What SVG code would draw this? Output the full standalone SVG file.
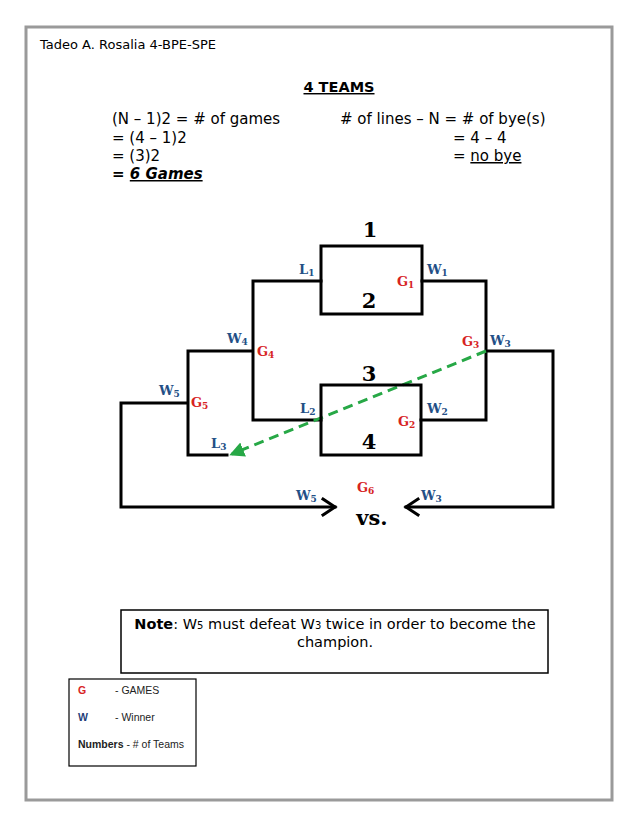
<svg xmlns="http://www.w3.org/2000/svg" width="638" height="826" viewBox="0 0 638 826">
<defs>
<style>
.hdr{font-family:"DejaVu Sans",Verdana,sans-serif;fill:#000}
.ln{fill:none;stroke:#000;stroke-width:3;stroke-linecap:square}
.box{fill:none;stroke:#000;stroke-width:3}
.num{font-family:"DejaVu Serif",serif;font-weight:bold;font-size:21px;fill:#000;text-anchor:middle}
.lb{font-family:"DejaVu Serif",serif;font-weight:bold;font-size:13px;fill:#234f86}
.g{font-family:"DejaVu Serif",serif;font-weight:bold;font-size:13px;fill:#d7241f}
.sub{font-size:9px}
.leg{font-family:"Liberation Sans",Arial,sans-serif;font-size:10.5px;fill:#222}
</style>
<marker id="ga" viewBox="0 0 10 10" refX="8" refY="5" markerWidth="5" markerHeight="5" orient="auto" markerUnits="strokeWidth">
<path d="M0,0 L10,5 L0,10 z" fill="#27a846"/>
</marker>
</defs>
<rect x="0" y="0" width="638" height="826" fill="#fff"/>
<rect x="26" y="27" width="586" height="773" fill="none" stroke="#9a9a9a" stroke-width="3"/>

<g id="header">
<text class="hdr" x="40" y="49" font-size="13">Tadeo A. Rosalia 4-BPE-SPE</text>
<text class="hdr" x="339" y="92" font-size="14.5" font-weight="bold" text-anchor="middle" text-decoration="underline">4 TEAMS</text>
<text class="hdr" x="112" y="124" font-size="15">(N – 1)2 = # of games</text>
<text class="hdr" x="112" y="143" font-size="15">= (4 – 1)2</text>
<text class="hdr" x="112" y="161" font-size="15">= (3)2</text>
<text class="hdr" x="112" y="179" font-size="15" font-weight="bold" font-style="italic">= <tspan text-decoration="underline">6 Games</tspan></text>
<text class="hdr" x="340" y="124" font-size="15"># of lines – N = # of bye(s)</text>
<text class="hdr" x="453" y="143" font-size="15">= 4 – 4</text>
<text class="hdr" x="453" y="161" font-size="15">= <tspan text-decoration="underline">no bye</tspan></text>
</g>

<g id="connectors">
<path class="ln" d="M253,281 H321 M422,281 H486 V420 H421 M486,351 H553 V507 H406 M253,420 H321 M253,281 V420 M188,351 H253 M188,351 V455 H227 M121,403 H188 M121,403 V507 H335"/>
<path class="ln" d="M323,499 L335,507 L323,515 M418,499 L406,507 L418,515" stroke-linecap="round" stroke-linejoin="miter"/>
<line x1="486" y1="351" x2="232" y2="454" stroke="#27a846" stroke-width="3" stroke-dasharray="10,6" marker-end="url(#ga)"/>
</g>

<g id="game1">
<rect class="box" x="321" y="246" width="101" height="68"/>
<text class="num" x="370" y="237">1</text>
<text class="num" x="369" y="308">2</text>
<text class="g" x="397" y="286">G<tspan class="sub" dy="2">1</tspan></text>
</g>
<g id="game2">
<rect class="box" x="321" y="385" width="100" height="70"/>
<text class="num" x="369" y="381">3</text>
<text class="num" x="369" y="449">4</text>
<text class="g" x="398" y="426">G<tspan class="sub" dy="2">2</tspan></text>
</g>

<g id="labels">
<text class="lb" x="299" y="274">L<tspan class="sub" dy="2">1</tspan></text>
<text class="lb" x="427" y="274">W<tspan class="sub" dy="2">1</tspan></text>
<text class="g" x="462" y="346">G<tspan class="sub" dy="2">3</tspan></text>
<text class="lb" x="490" y="345">W<tspan class="sub" dy="2">3</tspan></text>
<text class="lb" x="427" y="413">W<tspan class="sub" dy="2">2</tspan></text>
<text class="lb" x="300" y="413">L<tspan class="sub" dy="2">2</tspan></text>
<text class="lb" x="227" y="343">W<tspan class="sub" dy="2">4</tspan></text>
<text class="g" x="257" y="356">G<tspan class="sub" dy="2">4</tspan></text>
<text class="lb" x="159" y="395">W<tspan class="sub" dy="2">5</tspan></text>
<text class="g" x="191" y="407">G<tspan class="sub" dy="2">5</tspan></text>
<text class="lb" x="211" y="448">L<tspan class="sub" dy="2">3</tspan></text>
<text class="lb" x="296" y="500">W<tspan class="sub" dy="2">5</tspan></text>
<text class="g" x="357" y="492">G<tspan class="sub" dy="2">6</tspan></text>
<text class="lb" x="421" y="500">W<tspan class="sub" dy="2">3</tspan></text>
<text class="num" x="372" y="525">vs.</text>
</g>

<g id="note">
<rect x="121" y="610" width="427" height="63" fill="none" stroke="#000" stroke-width="1.5"/>
<text class="hdr" x="335" y="629" font-size="14.5" text-anchor="middle"><tspan font-weight="bold">Note</tspan>: W<tspan font-size="10">5</tspan> must defeat W<tspan font-size="10">3</tspan> twice in order to become the</text>
<text class="hdr" x="335" y="647" font-size="14.5" text-anchor="middle">champion.</text>
</g>

<g id="legend">
<rect x="69" y="679" width="127" height="87" fill="none" stroke="#000" stroke-width="1.2"/>
<text class="leg" x="78" y="694" font-weight="bold" style="fill:#d7241f">G</text>
<text class="leg" x="115" y="694">- GAMES</text>
<text class="leg" x="78" y="721" font-weight="bold" style="fill:#1f3f7a">W</text>
<text class="leg" x="115" y="721">- Winner</text>
<text class="leg" x="78" y="748"><tspan font-weight="bold">Numbers</tspan> - # of Teams</text>
</g>
</svg>
